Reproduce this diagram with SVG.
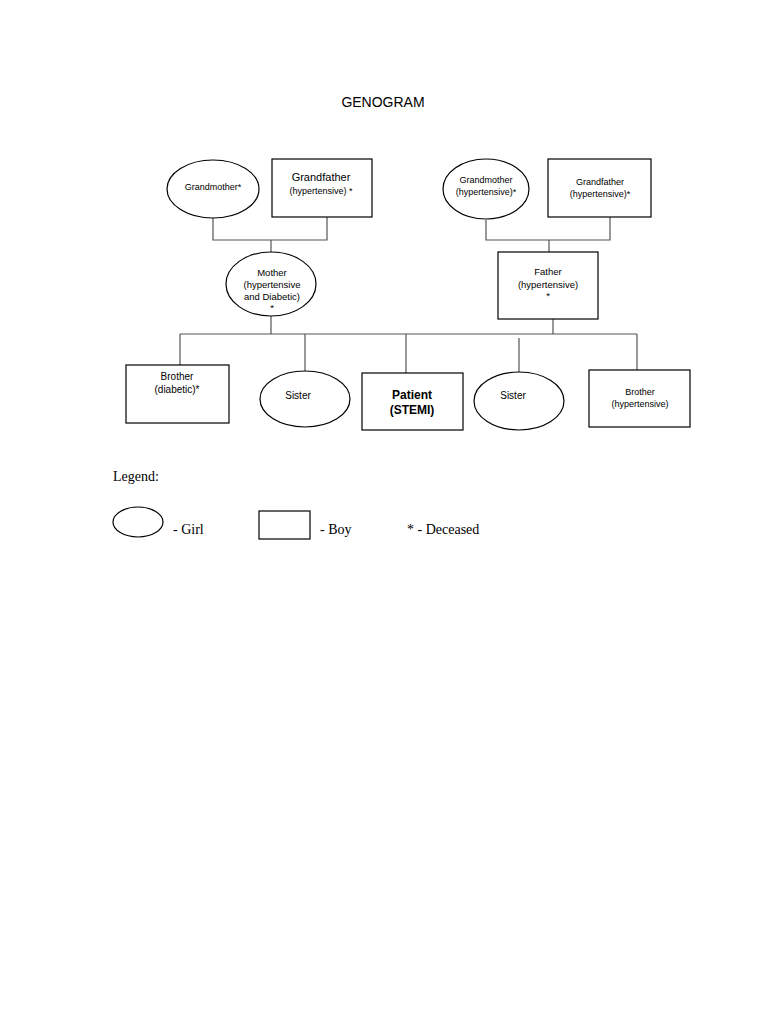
<svg xmlns="http://www.w3.org/2000/svg" width="768" height="1024" viewBox="0 0 768 1024">
<style>
.s{fill:#fff;stroke:#000;stroke-width:1.2}
.c{fill:none;stroke:#555;stroke-width:1.2}
text{font-family:"Liberation Sans",Arial,sans-serif;font-size:9.5px;text-anchor:middle;fill:#000}
.l{font-family:"Liberation Serif","Times New Roman",serif;font-size:14px;text-anchor:start}
</style>
<rect width="768" height="1024" fill="#fff"/>
<text x="383" y="107" style="font-size:14px">GENOGRAM</text>
<g id="connectors">
<path class="c" d="M213 218V240H327V217M271 240V252"/>
<path class="c" d="M486 220V240H610V217M549 240V253"/>
<path class="c" d="M271 316V334M553 319V334M180 334H637M180 334V365M305 334V371M406 334V373M519 338V372M637 334V370"/>
</g>
<g id="gm1"><ellipse class="s" cx="213" cy="189" rx="46" ry="29"/><text x="213" y="190" style="font-size:9px">Grandmother*</text></g>
<g id="gf1"><rect class="s" x="272" y="159" width="100" height="58"/><text x="321" y="181" style="font-size:11px">Grandfather</text><text x="321" y="194" style="font-size:9px">(hypertensive) *</text></g>
<g id="gm2"><ellipse class="s" cx="486" cy="189" rx="43" ry="30"/><text x="486" y="183" style="font-size:9px">Grandmother</text><text x="486" y="195" style="font-size:9px">(hypertensive)*</text></g>
<g id="gf2"><rect class="s" x="548" y="159" width="103" height="58"/><text x="600" y="185" style="font-size:9px">Grandfather</text><text x="600" y="197" style="font-size:9px">(hypertensive)*</text></g>
<g id="mother"><ellipse class="s" cx="271" cy="284" rx="45" ry="32"/><text x="272" y="276">Mother</text><text x="272" y="288">(hypertensive</text><text x="272" y="300">and Diabetic)</text><text x="272" y="311">*</text></g>
<g id="father"><rect class="s" x="498" y="252" width="100" height="67"/><text x="548" y="275">Father</text><text x="548" y="288">(hypertensive)</text><text x="548" y="299">*</text></g>
<g id="brother1"><rect class="s" x="126" y="365" width="103" height="58"/><text x="177" y="380" style="font-size:10px">Brother</text><text x="177" y="393" style="font-size:10px">(diabetic)*</text></g>
<g id="sister1"><ellipse class="s" cx="305" cy="399" rx="45" ry="28"/><text x="298" y="399" style="font-size:10px">Sister</text></g>
<g id="patient"><rect class="s" x="362" y="373" width="101" height="57"/><text x="412" y="399" style="font-size:12px;font-weight:bold">Patient</text><text x="412" y="414" style="font-size:12px;font-weight:bold">(STEMI)</text></g>
<g id="sister2"><ellipse class="s" cx="519" cy="401" rx="45" ry="29"/><text x="513" y="399" style="font-size:10px">Sister</text></g>
<g id="brother2"><rect class="s" x="589" y="370" width="101" height="57"/><text x="640" y="395" style="font-size:9px">Brother</text><text x="640" y="407" style="font-size:9px">(hypertensive)</text></g>
<g id="legend">
<text class="l" x="113" y="481">Legend:</text>
<ellipse class="s" cx="138" cy="522" rx="25" ry="15"/>
<text class="l" x="173" y="534">- Girl</text>
<rect class="s" x="259" y="511" width="51" height="28"/>
<text class="l" x="320" y="534">- Boy</text>
<text class="l" x="407" y="534">* - Deceased</text>
</g>
</svg>
